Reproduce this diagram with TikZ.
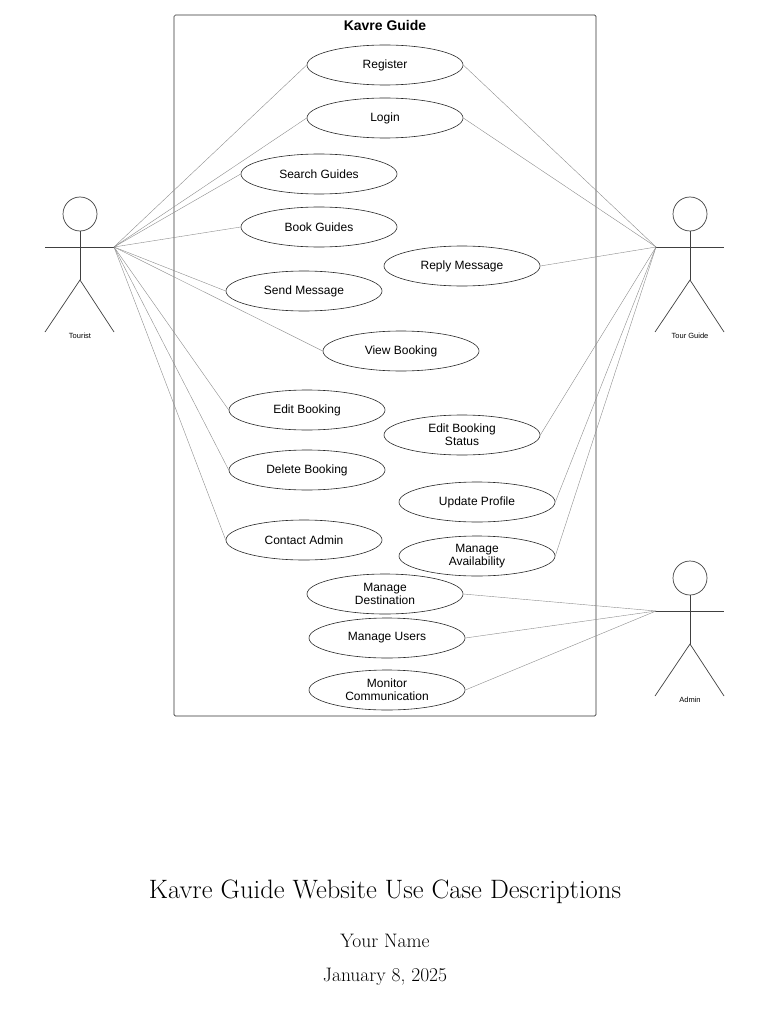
\documentclass[tikz,border=0pt]{standalone}
\usepackage{fontspec}
\newfontfamily\uml{Liberation Sans}
\usetikzlibrary{shapes.geometric}
\begin{document}
\begin{tikzpicture}[x=1pt,y=-1pt,
  uc/.style={ellipse,draw=black!85,line width=0.6pt,minimum width=156pt,minimum height=40pt,inner sep=0pt,align=center,font=\uml\fontsize{12}{13}\selectfont},
  link/.style={draw=black!45,line width=0.4pt},
  actorline/.style={draw=black!75,line width=0.7pt},
  alabel/.style={font=\uml\fontsize{7.5}{8}\selectfont}]
\useasboundingbox (0,0) rectangle (768,1024);
\draw[black!80,line width=0.7pt,rounded corners=1.5pt] (174,15) rectangle (596,716);
\node[font=\uml\bfseries\fontsize{14}{15}\selectfont] (title) at (385,25) {Kavre Guide};
\node[uc] (reg) at (385,65) {Register};
\node[uc] (log) at (385,118) {Login};
\node[uc] (sg) at (319,174) {Search Guides};
\node[uc] (bg) at (319,227) {Book Guides};
\node[uc] (rm) at (462,266) {Reply Message};
\node[uc] (sm) at (304,291) {Send Message};
\node[uc] (vb) at (401,351) {View Booking};
\node[uc] (eb) at (307,410) {Edit Booking};
\node[uc] (ebs) at (462,435) {Edit Booking\\Status};
\node[uc] (db) at (307,470) {Delete Booking};
\node[uc] (up) at (477,502) {Update Profile};
\node[uc] (ca) at (304,540) {Contact Admin};
\node[uc] (ma) at (477,556) {Manage\\Availability};
\node[uc] (md) at (385,594) {Manage\\Destination};
\node[uc] (mu) at (387,638) {Manage Users};
\node[uc] (mc) at (387,690) {Monitor\\Communication};
% actors
\foreach \n/\x/\y/\lab in {tour/80/214/Tourist,guide/690/214/Tour Guide,adm/690/578/Admin}{
  \draw[actorline] (\x,\y) circle (17);
  \draw[actorline] (\x,\y+17) -- (\x,\y+66);
  \draw[actorline] (\x-35,\y+33) -- (\x+34,\y+33);
  \draw[actorline] (\x-35,\y+118) -- (\x,\y+66) -- (\x+34,\y+118);
  \node[alabel] (\n lab) at (\x,\y+122) {\lab};
}
\coordinate (th) at (114,247);
\coordinate (gh) at (656,247);
\coordinate (ah) at (656,611);
\foreach \u in {reg,log,sg,bg,sm,vb,eb,db,ca} \draw[link] (th) -- (\u.west);
\foreach \u in {reg,log,rm,ebs,up,ma} \draw[link] (gh) -- (\u.east);
\foreach \u in {md,mu,mc} \draw[link] (ah) -- (\u.east);
\node[font=\fontsize{26.6}{30}\selectfont] (doc) at (385,892) {Kavre Guide Website Use Case Descriptions};
\node[font=\fontsize{19.5}{23}\selectfont] (auth) at (385,941) {Your Name};
\node[font=\fontsize{19.5}{23}\selectfont] (date) at (385,977) {January 8, 2025};
\end{tikzpicture}
\end{document}
